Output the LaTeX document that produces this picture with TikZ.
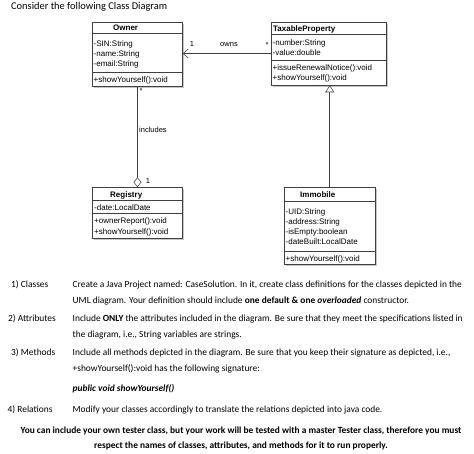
\documentclass[tikz,border=0pt]{standalone}
\usepackage{fontspec}
\setmainfont{Carlito}
\newfontfamily\umlfont{Liberation Sans}
\usetikzlibrary{arrows.meta, shadows}

\tikzset{
  classbox/.style={draw=black!75, line width=0.55pt, fill=white, inner sep=0pt,
    drop shadow={shadow xshift=1.5pt, shadow yshift=-1.5pt, fill=black!22, opacity=1}},
  ctitle/.style={anchor=base west, inner sep=0pt, font=\umlfont\fontsize{8}{10}\selectfont\bfseries},
  member/.style={anchor=base west, inner sep=0pt, font=\umlfont\fontsize{8}{10}\selectfont},
  mult/.style={inner sep=0pt, font=\umlfont\fontsize{7.5}{9}\selectfont},
  sepline/.style={draw=black!75, line width=0.5pt},
  rel/.style={draw=black!75, line width=0.55pt},
  body/.style={anchor=base west, inner sep=0pt, font=\fontsize{9.4}{11}\selectfont},
}

\begin{document}
\begin{tikzpicture}[x=1pt, y=-1pt]
\useasboundingbox (0,0) rectangle (474,453);

\node[body] (head) at (11,9.5) {\fontsize{10.4}{12}\selectfont Consider the following Class Diagram};

% class boxes
\node[classbox, minimum width=90pt, minimum height=64pt] (owner) at (137.5,54) {};
\node[classbox, minimum width=115pt, minimum height=63pt] (tax) at (329,53.5) {};
\node[classbox, minimum width=90pt, minimum height=50.5pt] (reg) at (137.5,212.75) {};
\node[classbox, minimum width=90.5pt, minimum height=77pt] (imm) at (329.75,226) {};

% compartments
\draw[sepline] (92.5,33.5) -- (182.5,33.5) (92.5,72.5) -- (182.5,72.5);
\draw[sepline] (271.5,34) -- (386.5,34) (271.5,60) -- (386.5,60);
\draw[sepline] (92.5,200) -- (182.5,200) (92.5,213.5) -- (182.5,213.5);
\draw[sepline] (284.5,201.5) -- (375,201.5) (284.5,251.5) -- (375,251.5);

% Owner
\node[ctitle] (owner-t) at (113,30.7) {Owner};
\foreach \txt [count=\i] in {-SIN:String, -name:String, -email:String}
  \node[member] (owner-a\i) at (93.5,36+10*\i) {\txt};
\node[member] (owner-m1) at (93.5,82.5) {+showYourself():void};

% TaxableProperty
\node[ctitle] (tax-t) at (273,31.3) {TaxableProperty};
\foreach \txt [count=\i] in {-number:String, -value:double}
  \node[member] (tax-a\i) at (272.5,35.3+10*\i) {\txt};
\foreach \txt [count=\i] in {+issueRenewalNotice():void, +showYourself():void}
  \node[member] (tax-m\i) at (272.5,60.7+10*\i) {\txt};

% Registry
\node[ctitle] (reg-t) at (110,197.3) {Registry};
\node[member] (reg-a1) at (94,210.3) {-date:LocalDate};
\foreach \txt [count=\i] in {+ownerReport():void, +showYourself():void}
  \node[member] (reg-m\i) at (94,213.7+10.2*\i) {\txt};

% Immobile
\node[ctitle] (imm-t) at (300,197) {Immobile};
\foreach \txt [count=\i] in {-UID:String, -address:String, -isEmpty:boolean, -dateBuilt:LocalDate}
  \node[member] (imm-a\i) at (285.5,203.8+10.2*\i) {\txt};
\node[member] (imm-m1) at (285.5,261.3) {+showYourself():void};

% relations
\draw[rel, -{Straight Barb[length=5pt, width=9pt]}] (tax.west) -- (tax.west -| owner.east);
\draw[rel, -{Triangle[open, length=7pt, width=9pt, fill=white]}] (imm.north) -- (imm.north |- tax.south);
\draw[rel, {Diamond[open, length=10pt, width=8pt, fill=white]}-] (reg.north) -- (reg.north |- owner.south);

\node[mult] (own-1) at (192,44) {1};
\node[mult] (own-l) at (229,45) {owns};
\node[mult] (own-s) at (267,45) {*};
\node[mult] (inc-s) at (141,91) {*};
\node[mult, anchor=west] (inc-l) at (139,129.5) {includes};
\node[mult] (inc-1) at (148,181) {1};

% instructions
\node[body] (cls-k) at (11,287.5) {1) Classes};
\node[body] (cls-1) at (72.5,287.5) {Create a Java Project named: CaseSolution. In it, create class definitions for the classes depicted in the};
\node[body] (cls-2) at (72.5,303) {UML diagram. Your definition should include \textbf{one default \& one \textit{overloaded}} constructor.};
\node[body] (att-k) at (8,321.5) {2) Attributes};
\node[body] (att-1) at (72.5,321.5) {Include \textbf{ONLY} the attributes included in the diagram. Be sure that they meet the specifications listed in};
\node[body] (att-2) at (72.5,337) {the diagram, i.e., String variables are strings.};
\node[body] (met-k) at (11,355.5) {3) Methods};
\node[body] (met-1) at (72.5,355.5) {Include all methods depicted in the diagram. Be sure that you keep their signature as depicted, i.e.,};
\node[body] (met-2) at (72.5,371) {+showYourself():void has the following signature:};
\node[body] (met-3) at (72.5,391.5) {\textbf{\textit{public void showYourself()}}};
\node[body] (rel-k) at (7.5,412.5) {4) Relations};
\node[body] (rel-1) at (72.5,412.5) {Modify your classes accordingly to translate the relations depicted into java code.};
\node[body, anchor=base] (note-1) at (241,433.5) {\textbf{You can include your own tester class, but your work will be tested with a master Tester class, therefore you must}};
\node[body, anchor=base] (note-2) at (241,448.5) {\textbf{respect the names of classes, attributes, and methods for it to run properly.}};
\end{tikzpicture}
\end{document}
